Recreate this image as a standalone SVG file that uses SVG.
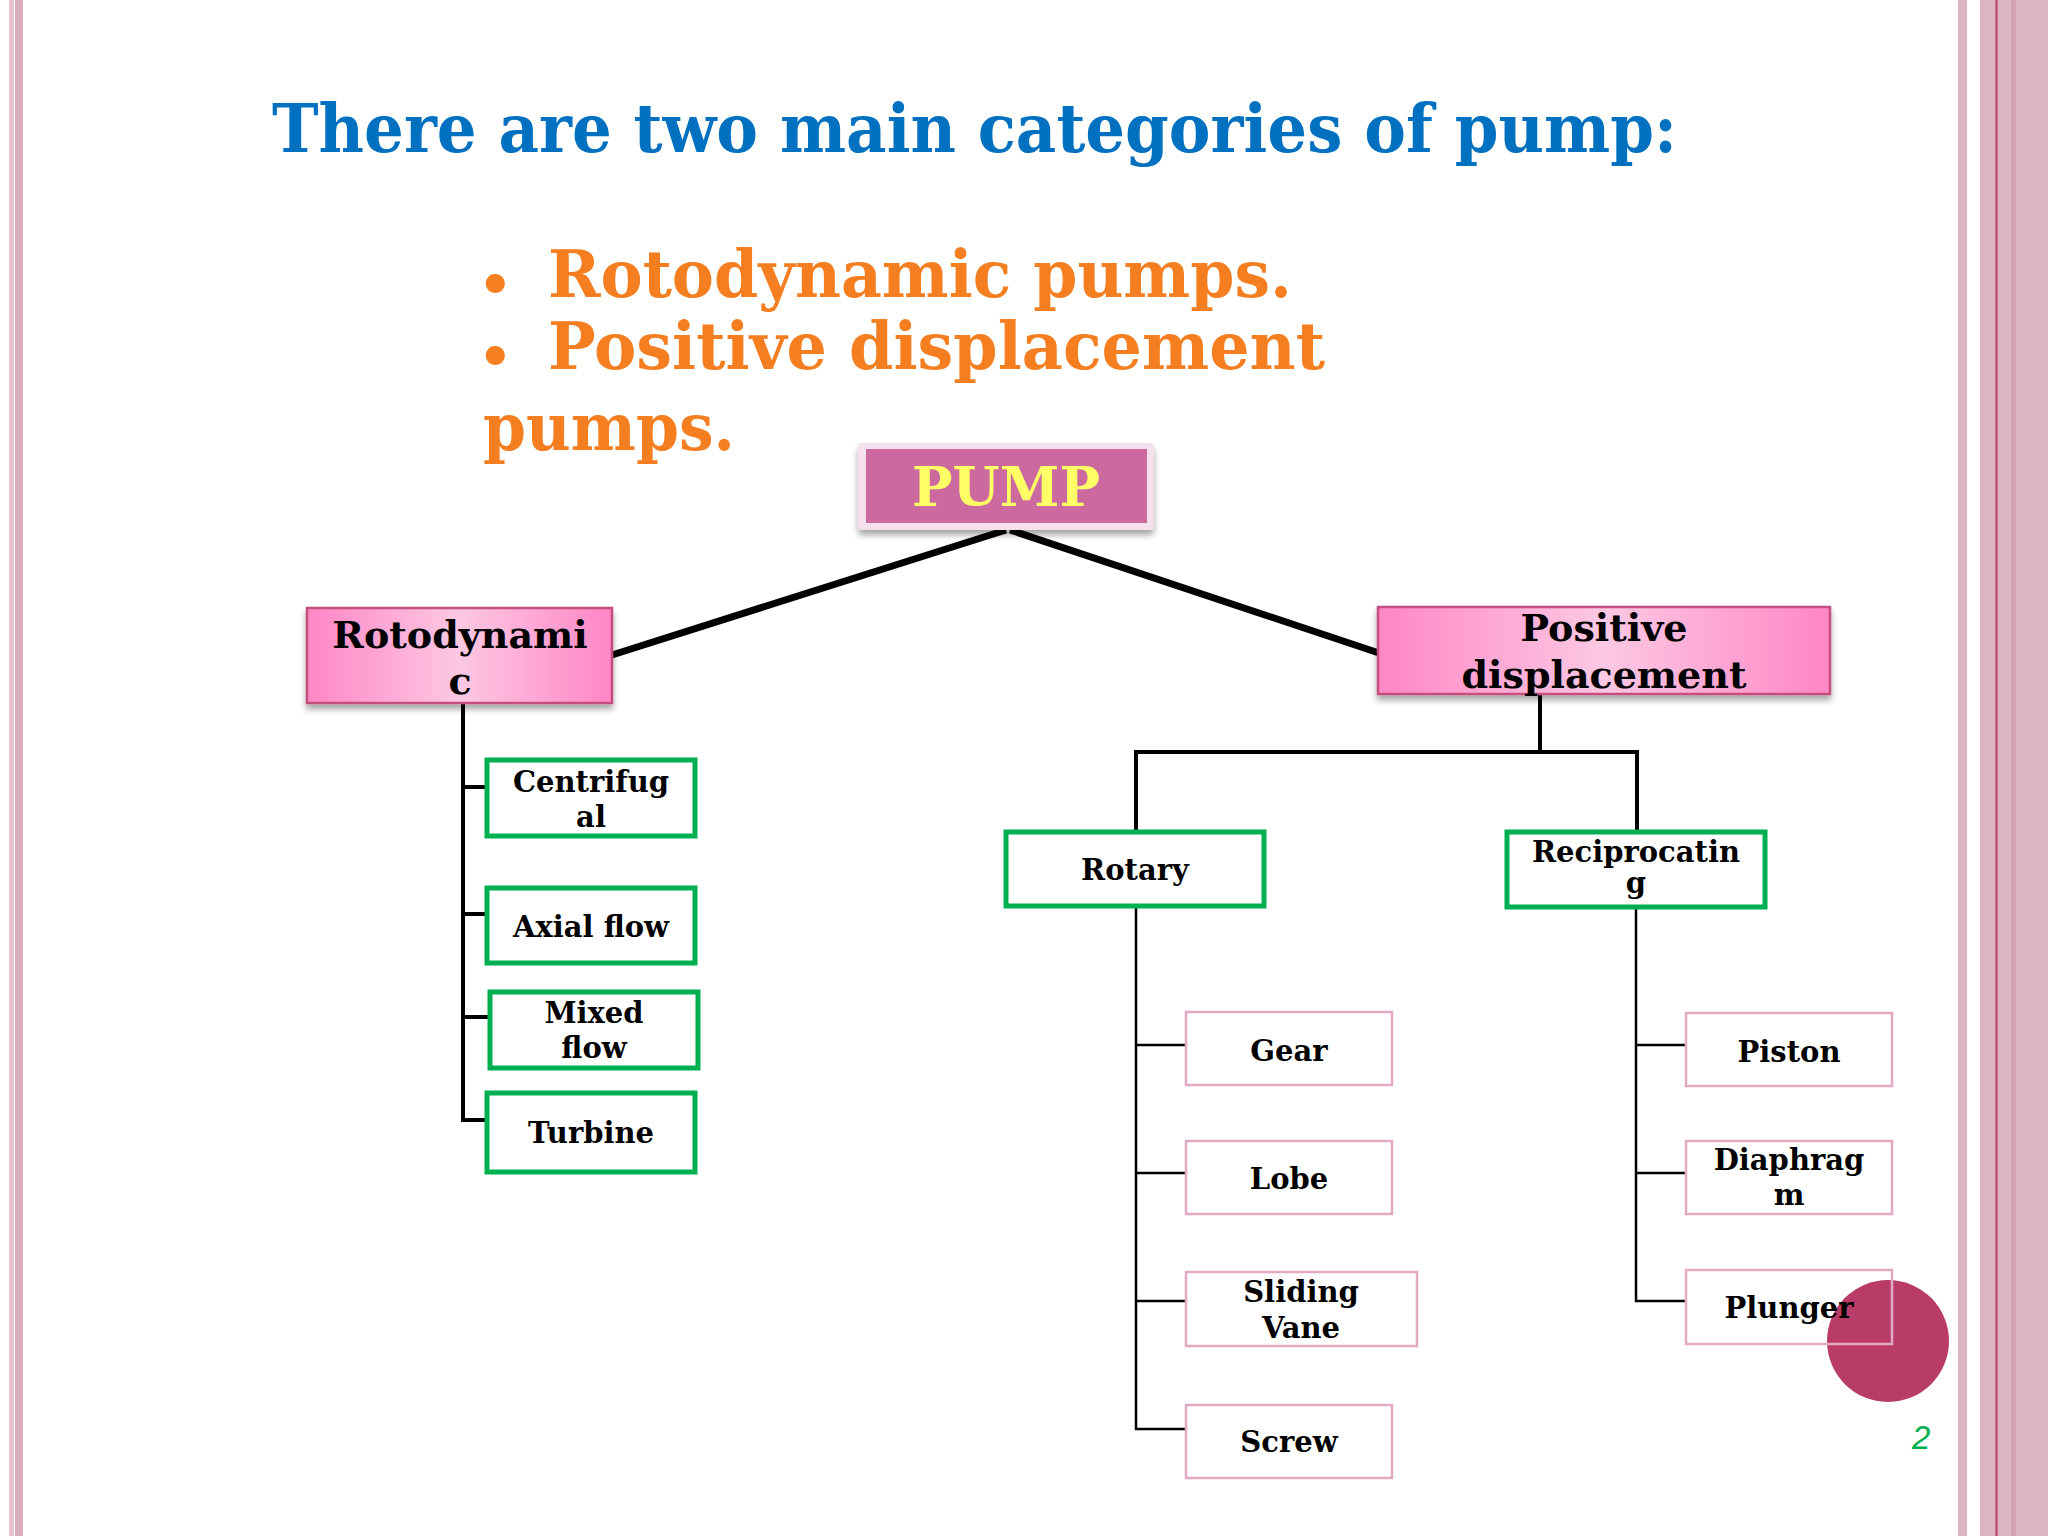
<svg xmlns="http://www.w3.org/2000/svg" width="2048" height="1536" viewBox="0 0 2048 1536">
<defs>
<linearGradient id="pinkGrad" x1="0" y1="0" x2="1" y2="0">
<stop offset="0" stop-color="#ff86c6"/>
<stop offset="0.5" stop-color="#fcc8e3"/>
<stop offset="1" stop-color="#ff86c6"/>
</linearGradient>
<filter id="shadow" x="-10%" y="-20%" width="120%" height="150%">
<feGaussianBlur in="SourceAlpha" stdDeviation="3"/>
<feOffset dx="0" dy="5" result="b"/>
<feComponentTransfer><feFuncA type="linear" slope="0.35"/></feComponentTransfer>
<feMerge><feMergeNode/><feMergeNode in="SourceGraphic"/></feMerge>
</filter>
</defs>
<style>
.t { font-family: "DejaVu Serif", "Liberation Serif", serif; font-weight: bold; }
.title { fill: #0070c0; font-size: 67px; }
.bul { fill: #f57f20; font-size: 66px; }
.dot { fill: #f57f20; font-size: 54px; }
.big { fill: #000; font-size: 38px; text-anchor: middle; }
.sm { fill: #000; font-size: 29px; text-anchor: middle; }
.green { fill: none; stroke: #00b050; stroke-width: 5; }
.pinkbox { fill: none; stroke: #e2aac2; stroke-width: 2.5; }
.cat { fill: url(#pinkGrad); stroke: #c4507e; stroke-width: 2.5; filter: url(#shadow); }
.thick { stroke: #000; stroke-width: 7; fill: none; }
.mid { stroke: #000; stroke-width: 4; fill: none; }
.thin { stroke: #000; stroke-width: 2.5; fill: none; }
</style>
<rect x="0" y="0" width="2048" height="1536" fill="#ffffff"/>
<!-- borders -->
<rect x="9" y="0" width="5" height="1536" fill="#e4c2cf"/>
<rect x="15" y="0" width="8" height="1536" fill="#d8aebf"/>
<rect x="1958" y="0" width="9" height="1536" fill="#dcb4c2"/>
<rect x="1980" y="0" width="68" height="1536" fill="#dcb4c2"/>
<rect x="2011" y="0" width="5" height="1536" fill="#d2a2b4"/>
<rect x="1995.5" y="0" width="2" height="1536" fill="#b83c68"/>

<text class="t title" x="272" y="152" textLength="1405" lengthAdjust="spacingAndGlyphs">There are two main categories of pump:</text>
<text class="t dot" x="478" y="304">•</text>
<text class="t bul" x="548" y="297" textLength="744" lengthAdjust="spacingAndGlyphs">Rotodynamic pumps.</text>
<text class="t dot" x="478" y="376">•</text>
<text class="t bul" x="548" y="369" textLength="777" lengthAdjust="spacingAndGlyphs">Positive displacement</text>
<text class="t bul" x="483" y="450" textLength="252" lengthAdjust="spacingAndGlyphs">pumps.</text>

<circle cx="1888" cy="1341" r="61" fill="#b93c68"/>

<g id="connectors">
<line class="thick" x1="1006" y1="530" x2="612" y2="655"/>
<line class="thick" x1="1010" y1="530" x2="1379" y2="653"/>
<line class="mid" x1="1540" y1="694" x2="1540" y2="752"/>
<polyline class="mid" points="1136,832 1136,752 1637,752 1637,832"/>
<line class="mid" x1="463" y1="704" x2="463" y2="1122"/>
<line class="mid" x1="461" y1="787" x2="487" y2="787"/>
<line class="mid" x1="461" y1="914" x2="487" y2="914"/>
<line class="mid" x1="461" y1="1017" x2="490" y2="1017"/>
<line class="mid" x1="461" y1="1120" x2="487" y2="1120"/>
<line class="thin" x1="1136" y1="906" x2="1136" y2="1430"/>
<line class="thin" x1="1135" y1="1045" x2="1186" y2="1045"/>
<line class="thin" x1="1135" y1="1173" x2="1186" y2="1173"/>
<line class="thin" x1="1135" y1="1301" x2="1186" y2="1301"/>
<line class="thin" x1="1135" y1="1429" x2="1186" y2="1429"/>
<line class="thin" x1="1636" y1="907" x2="1636" y2="1302"/>
<line class="thin" x1="1635" y1="1045" x2="1686" y2="1045"/>
<line class="thin" x1="1635" y1="1173" x2="1686" y2="1173"/>
<line class="thin" x1="1635" y1="1301" x2="1686" y2="1301"/>
</g>

<g id="pump">
<rect x="858" y="443" width="296" height="87" rx="4" fill="#f5e1ee" filter="url(#shadow)"/>
<rect x="866" y="449" width="281" height="74" fill="#cc6aa0"/>
<text class="t" x="1006" y="506" font-size="54" fill="#ffff66" text-anchor="middle">PUMP</text>
</g>

<g id="rotodynamic">
<rect class="cat" x="307" y="608" width="305" height="95"/>
<text class="t big" x="460" y="648">Rotodynami</text>
<text class="t big" x="460" y="694">c</text>
</g>

<g id="positive">
<rect class="cat" x="1378" y="607" width="452" height="87"/>
<text class="t big" x="1604" y="641">Positive</text>
<text class="t big" x="1604" y="688">displacement</text>
</g>

<g id="centrifugal">
<rect class="green" x="487" y="760" width="208" height="76"/>
<text class="t sm" x="591" y="792">Centrifug</text>
<text class="t sm" x="591" y="827">al</text>
</g>
<g id="axial">
<rect class="green" x="487" y="888" width="208" height="75"/>
<text class="t sm" x="591" y="937">Axial flow</text>
</g>
<g id="mixed">
<rect class="green" x="490" y="992" width="208" height="76"/>
<text class="t sm" x="594" y="1023">Mixed</text>
<text class="t sm" x="594" y="1058">flow</text>
</g>
<g id="turbine">
<rect class="green" x="487" y="1093" width="208" height="79"/>
<text class="t sm" x="591" y="1143">Turbine</text>
</g>

<g id="rotary">
<rect class="green" x="1006" y="832" width="258" height="74"/>
<text class="t sm" x="1135" y="880">Rotary</text>
</g>
<g id="reciprocating">
<rect class="green" x="1507" y="832" width="258" height="75"/>
<text class="t sm" x="1636" y="862">Reciprocatin</text>
<text class="t sm" x="1636" y="893">g</text>
</g>

<g id="gear">
<rect class="pinkbox" x="1186" y="1012" width="206" height="73"/>
<text class="t sm" x="1289" y="1061">Gear</text>
</g>
<g id="lobe">
<rect class="pinkbox" x="1186" y="1141" width="206" height="73"/>
<text class="t sm" x="1289" y="1189">Lobe</text>
</g>
<g id="sliding">
<rect class="pinkbox" x="1186" y="1272" width="231" height="74"/>
<text class="t sm" x="1301" y="1302">Sliding</text>
<text class="t sm" x="1301" y="1338">Vane</text>
</g>
<g id="screw">
<rect class="pinkbox" x="1186" y="1405" width="206" height="73"/>
<text class="t sm" x="1289" y="1452">Screw</text>
</g>

<g id="piston">
<rect class="pinkbox" x="1686" y="1013" width="206" height="73"/>
<text class="t sm" x="1789" y="1062">Piston</text>
</g>
<g id="diaphragm">
<rect class="pinkbox" x="1686" y="1141" width="206" height="73"/>
<text class="t sm" x="1789" y="1170">Diaphrag</text>
<text class="t sm" x="1789" y="1205">m</text>
</g>
<g id="plunger">
<rect class="pinkbox" x="1686" y="1270" width="206" height="74"/>
<text class="t sm" x="1789" y="1318">Plunger</text>
</g>

<text x="1912" y="1449" font-family="Liberation Sans, sans-serif" font-style="italic" font-size="33" fill="#00b050">2</text>
</svg>
